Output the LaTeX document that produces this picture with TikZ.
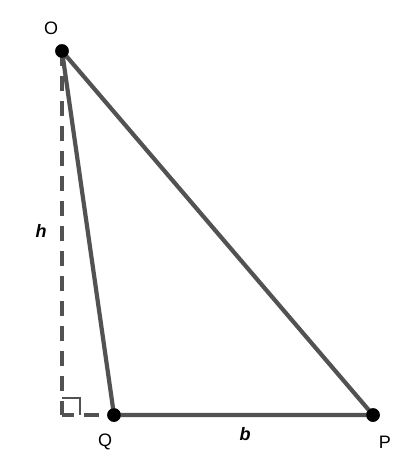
\documentclass[tikz,border=0pt]{standalone}
\usepackage{fontspec}
\setmainfont{Liberation Sans}

\begin{document}
\begin{tikzpicture}[x=1pt,y=-1pt,line width=4.2pt,draw=black!68]
    \tikzstyle{vertex}=[circle,fill=black,minimum size=13.5pt,inner sep=0pt]
    \tikzstyle{lab}=[font=\fontsize{18}{20}\selectfont]
    \tikzstyle{side}=[lab,font=\fontsize{18}{20}\selectfont\bfseries\itshape]
    \tikzstyle{height}=[dash pattern=on 15pt off 10pt]

    \useasboundingbox (0,0) rectangle (420,472);

    % Draw the foot of the height and the right angle
    \coordinate (F) at (62,415);
    \draw[line width=2.8pt] (62,398) -- (80,398) -- (80,415);

    % Draw the vertices
    \node[vertex] (O) at (62,51) {};
    \node[vertex] (Q) at (114,415) {};
    \node[vertex] (P) at (373,415) {};

    % Draw the height and its extension of the base
    \draw[height] (O.center) -- (F);
    \draw[height,dash phase=3pt] (F) -- (Q.center);

    % Draw the sides of the triangle
    \draw (O.center) -- (Q.center) -- (P.center) -- cycle;
    \foreach \v in {O,Q,P}
        \node[vertex] at (\v) {};

    % Annotate the vertices and the lengths
    \node[lab] at (51,28) {O};
    \node[lab] at (105,442) {Q};
    \node[lab] at (385,442) {P};
    \node[side] at (41,231) {h};
    \node[side] at (245,434) {b};
\end{tikzpicture}
\end{document}
